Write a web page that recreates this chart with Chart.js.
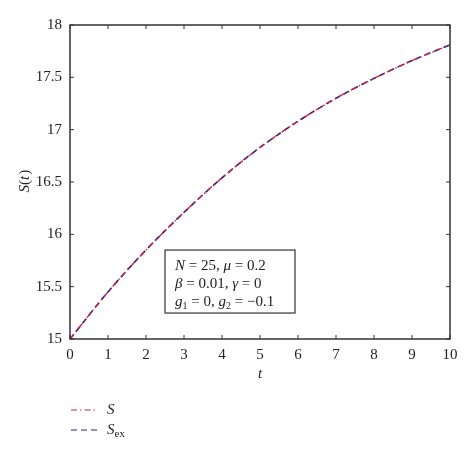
<!DOCTYPE html>
<html>
<head>
<meta charset="utf-8">
<script src="https://cdn.jsdelivr.net/npm/chart.js@4/dist/chart.umd.min.js"></script>
<style>
  html, body { margin: 0; padding: 0; background: #fff; }
  #wrap { width: 474px; height: 459px; }
</style>
</head>
<body>
<div id="wrap"><canvas id="c" width="474" height="459"></canvas></div>
<script>
// values
const tValues = [0, 1, 2, 3, 4, 5, 6, 7, 8, 9, 10];
const sValues = [15, 15.45, 15.85, 16.21, 16.54, 16.83, 17.08, 17.30, 17.49, 17.66, 17.81];
const sExValues = [15, 15.45, 15.85, 16.21, 16.54, 16.83, 17.08, 17.30, 17.49, 17.66, 17.81];
const xTicks = [0, 1, 2, 3, 4, 5, 6, 7, 8, 9, 10];
const yTicks = [15, 15.5, 16, 16.5, 17, 17.5, 18];

const serif = '"Liberation Serif", "DejaVu Serif", serif';

function pts(ys) {
  return tValues.map((t, i) => ({ x: t, y: ys[i] }));
}

// box, inward ticks, axis titles, note box and legend
const decor = {
  id: 'decor',
  afterDraw(chart) {
    const ctx = chart.ctx;
    const a = chart.chartArea;
    const xs = chart.scales.x, ys = chart.scales.y;
    ctx.save();
    ctx.strokeStyle = '#333';
    ctx.lineWidth = 1.5;
    ctx.strokeRect(a.left, a.top, a.right - a.left, a.bottom - a.top);
    ctx.lineWidth = 1;
    xTicks.forEach(v => {
      const px = xs.getPixelForValue(v);
      ctx.beginPath();
      ctx.moveTo(px, a.bottom); ctx.lineTo(px, a.bottom - 4);
      ctx.moveTo(px, a.top); ctx.lineTo(px, a.top + 4);
      ctx.stroke();
    });
    yTicks.forEach(v => {
      const py = ys.getPixelForValue(v);
      ctx.beginPath();
      ctx.moveTo(a.left, py); ctx.lineTo(a.left + 4, py);
      ctx.moveTo(a.right, py); ctx.lineTo(a.right - 4, py);
      ctx.stroke();
    });

    ctx.fillStyle = '#222';
    // x title
    ctx.font = 'italic 15px ' + serif;
    ctx.textAlign = 'center';
    ctx.textBaseline = 'middle';
    ctx.fillText('t', (a.left + a.right) / 2, 374);
    // y title
    ctx.save();
    ctx.translate(25, (a.top + a.bottom) / 2);
    ctx.rotate(-Math.PI / 2);
    ctx.font = 'italic 15px ' + serif;
    ctx.textAlign = 'right';
    ctx.fillText('S', -3, 0);
    ctx.font = '15px ' + serif;
    ctx.textAlign = 'left';
    ctx.fillText('(', -3, 0);
    const w1 = ctx.measureText('(').width;
    ctx.font = 'italic 15px ' + serif;
    ctx.fillText('t', -3 + w1, 0);
    const w2 = ctx.measureText('t').width;
    ctx.font = '15px ' + serif;
    ctx.fillText(')', -3 + w1 + w2 + 1, 0);
    ctx.restore();

    // note box
    const bx = xs.getPixelForValue(2.5), by = ys.getPixelForValue(15.85);
    const bw = 130, bh = 63;
    ctx.fillStyle = '#fff';
    ctx.fillRect(bx, by, bw, bh);
    ctx.strokeStyle = '#333';
    ctx.lineWidth = 1.2;
    ctx.strokeRect(bx, by, bw, bh);
    const lines = [
      [['N', 'i'], [' = 25, ', 'n'], ['μ', 'i'], [' = 0.2', 'n']],
      [['β', 'i'], [' = 0.01, ', 'n'], ['γ', 'i'], [' = 0', 'n']],
      [['g', 'i'], ['1', 's'], [' = 0, ', 'n'], ['g', 'i'], ['2', 's'], [' = −0.1', 'n']]
    ];
    ctx.fillStyle = '#222';
    ctx.textAlign = 'left';
    ctx.textBaseline = 'alphabetic';
    lines.forEach((segs, i) => {
      let x = bx + 10;
      const y = by + 20 + i * 18;
      segs.forEach(([txt, st]) => {
        if (st === 's') {
          ctx.font = '10px ' + serif;
          ctx.fillText(txt, x, y + 3);
        } else {
          ctx.font = (st === 'i' ? 'italic ' : '') + '15px ' + serif;
          ctx.fillText(txt, x, y);
        }
        x += ctx.measureText(txt).width;
      });
    });

    // legend
    const items = [
      { ds: chart.data.datasets[0], y: 410, label: 'S', sub: '' },
      { ds: chart.data.datasets[1], y: 430, label: 'S', sub: 'ex' }
    ];
    items.forEach(it => {
      ctx.strokeStyle = it.ds.borderColor;
      ctx.lineWidth = 1.2;
      ctx.setLineDash(it.ds.borderDash);
      ctx.beginPath();
      ctx.moveTo(71, it.y); ctx.lineTo(97, it.y);
      ctx.stroke();
      ctx.setLineDash([]);
      ctx.fillStyle = '#222';
      ctx.font = 'italic 15px ' + serif;
      ctx.textBaseline = 'middle';
      ctx.fillText(it.label, 107, it.y);
      if (it.sub) {
        const w = ctx.measureText(it.label).width;
        ctx.font = '11px ' + serif;
        ctx.fillText(it.sub, 107 + w, it.y + 4);
      }
    });
    ctx.restore();
  }
};

new Chart(document.getElementById('c'), {
  type: 'line',
  data: {
    datasets: [{
      label: 'S',
      data: pts(sValues),
      borderColor: 'rgb(200, 40, 70)',
      borderWidth: 1.4,
      borderDash: [6, 3, 1.5, 3],
      pointRadius: 0,
      cubicInterpolationMode: 'monotone',
      fill: false
    }, {
      label: 'Sex',
      data: pts(sExValues),
      borderColor: 'rgb(45, 30, 130)',
      borderWidth: 1.6,
      borderDash: [6, 4],
      pointRadius: 0,
      cubicInterpolationMode: 'monotone',
      fill: false
    }]
  },
  options: {
    responsive: false,
    animation: false,
    layout: { padding: { left: 0, top: 25, right: 24, bottom: 0 } },
    plugins: { legend: { display: false }, tooltip: { enabled: false } },
    scales: {
      x: {
        type: 'linear',
        min: 0, max: 10,
        afterBuildTicks: s => { s.ticks = xTicks.map(v => ({ value: v })); },
        afterFit: s => { s.height = 120; },
        grid: { display: false },
        border: { display: false },
        ticks: { color: '#222', padding: -1, font: { family: serif, size: 15 }, callback: v => String(v) }
      },
      y: {
        min: 15, max: 18,
        afterBuildTicks: s => { s.ticks = yTicks.map(v => ({ value: v })); },
        afterFit: s => { s.width = 70; },
        grid: { display: false },
        border: { display: false },
        ticks: { color: '#222', padding: 0, font: { family: serif, size: 15 }, callback: v => String(v) }
      }
    }
  },
  plugins: [decor]
});
</script>
</body>
</html>
